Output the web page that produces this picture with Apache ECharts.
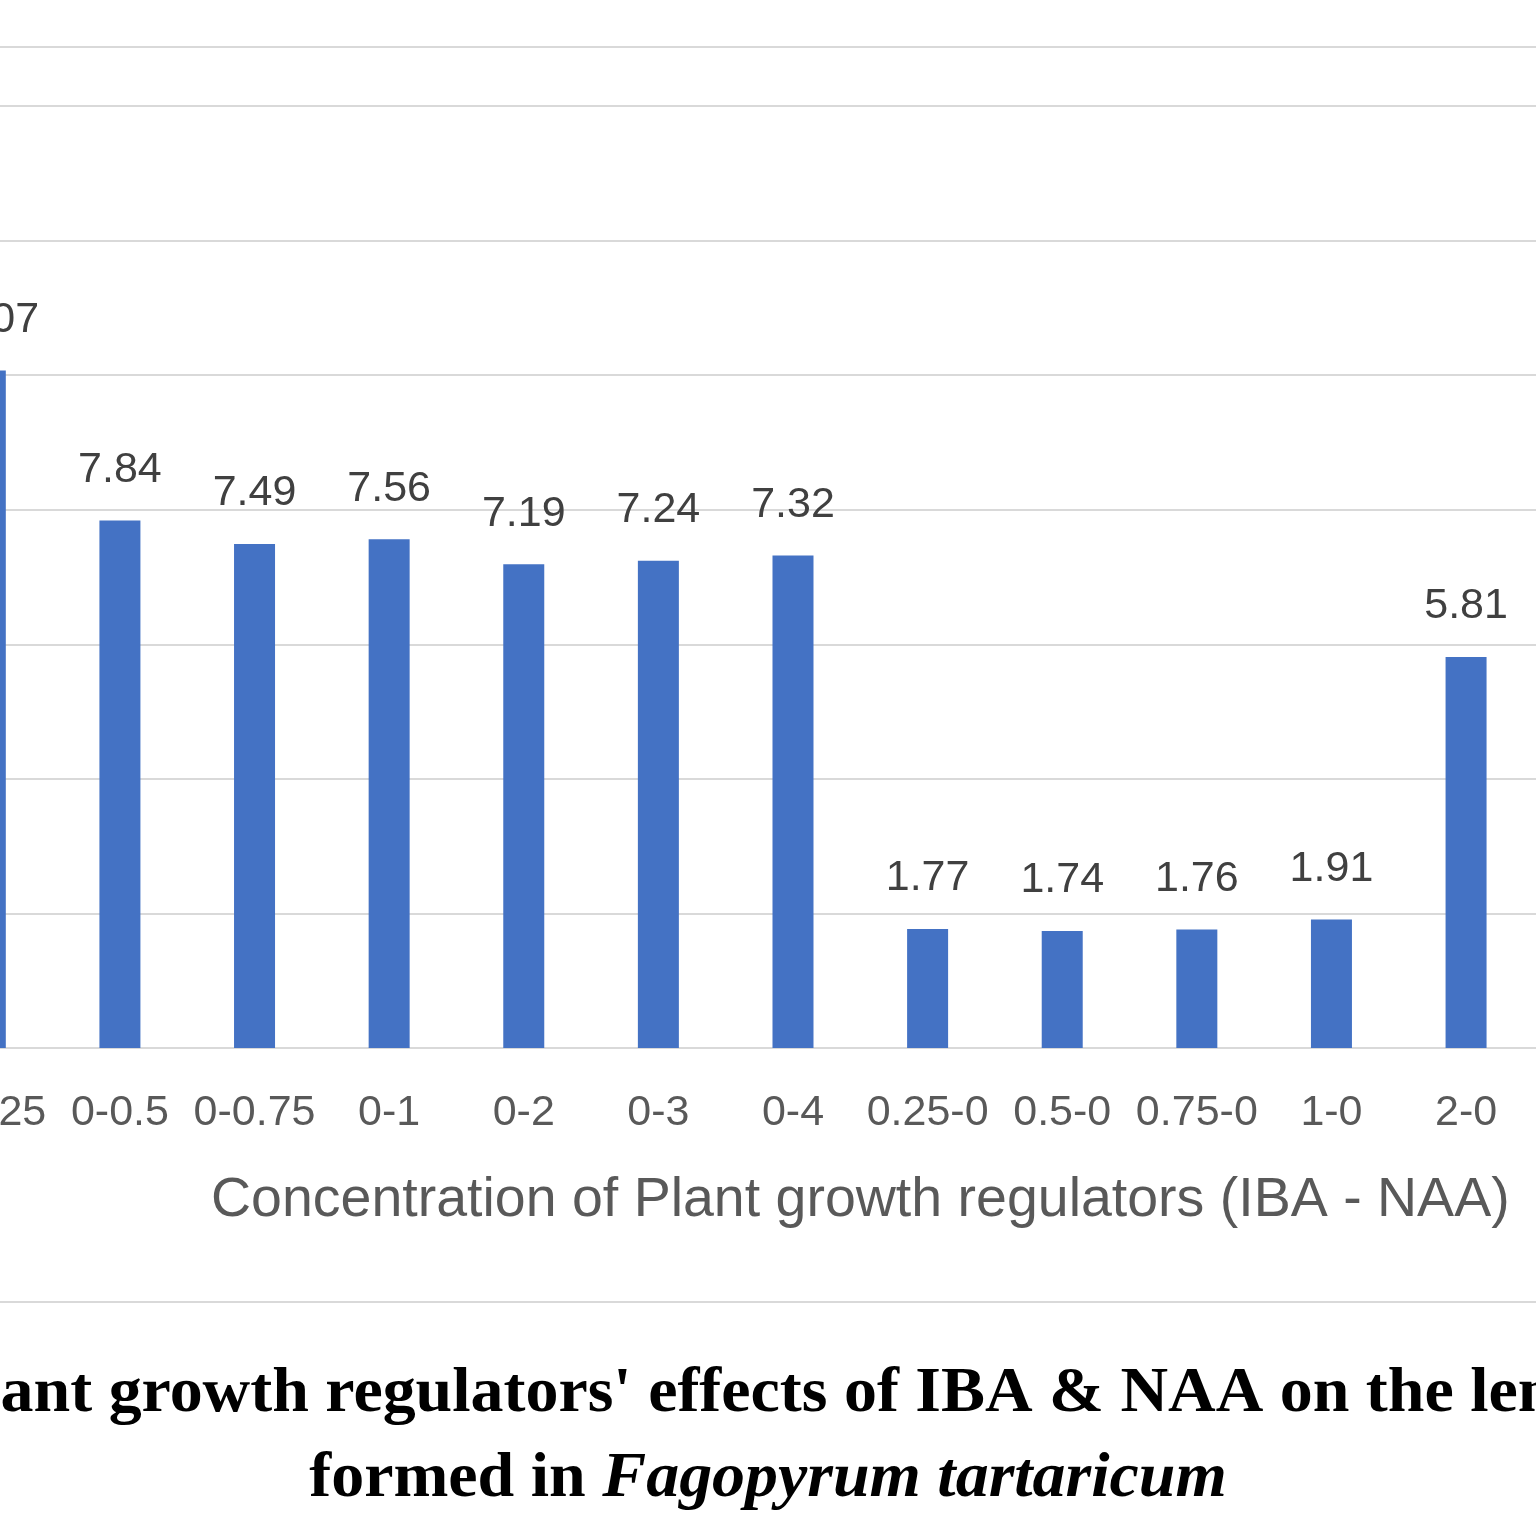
<!DOCTYPE html>
<html>
<head>
<meta charset="utf-8">
<script src="https://cdn.jsdelivr.net/npm/echarts@6/dist/echarts.min.js"></script>
<style>
html,body{margin:0;padding:0;background:#fff;overflow:hidden;width:1536px;height:1536px;}
#c{position:absolute;left:-400px;top:0;width:2400px;height:1536px;}
</style>
</head>
<body>
<div id="c"></div>
<script>
// Categories (IBA - NAA); the last two lie outside the cropped view
const categories = ['0-0.25','0-0.5','0-0.75','0-1','0-2','0-3','0-4','0.25-0','0.5-0','0.75-0','1-0','2-0','3-0','4-0'];
// Values (bars outside the visible crop left empty)
const values = [10.07, 7.84, 7.49, 7.56, 7.19, 7.24, 7.32, 1.77, 1.74, 1.76, 1.91, 5.81, null, null];
const yTicks = {min: 0, max: 14, interval: 2};
const xAxisTitle = 'Concentration of Plant growth regulators (IBA - NAA)';
const captionLine1 = "Plant growth regulators' effects of IBA & NAA on the length of roots";
const captionLine2a = 'formed in ';
const captionLine2b = 'Fagopyrum tartaricum';

const chart = echarts.init(document.getElementById('c'), null, {renderer: 'canvas'});
const OFF = 400; // container offset relative to the visible page
chart.setOption({
  animation: false,
  backgroundColor: '#ffffff',
  grid: {left: OFF - 82, right: 2400 - (OFF + 1802.6), top: 106, bottom: 1536 - 1048, containLabel: false, outerBoundsMode: 'none'},
  xAxis: {
    type: 'category',
    data: categories,
    axisTick: {show: false},
    axisLine: {lineStyle: {color: '#d9d9d9', width: 2}},
    axisLabel: {interval: 0, margin: 44, color: '#595959', fontFamily: 'Liberation Sans', fontSize: 43},
    name: xAxisTitle,
    nameLocation: 'middle',
    nameGap: 125,
    nameTextStyle: {color: '#595959', fontFamily: 'Liberation Sans', fontSize: 55.5}
  },
  yAxis: {
    type: 'value',
    min: yTicks.min, max: yTicks.max, interval: yTicks.interval,
    axisLine: {show: false},
    axisTick: {show: false},
    splitLine: {lineStyle: {color: '#d9d9d9', width: 2}},
    axisLabel: {color: '#595959', fontFamily: 'Liberation Sans', fontSize: 43, margin: 20}
  },
  series: [{
    type: 'bar',
    data: values,
    barWidth: 41,
    itemStyle: {color: '#4472C4'},
    label: {
      show: true, position: 'top', distance: 29,
      color: '#404040', fontFamily: 'Liberation Sans', fontSize: 43,
      formatter: p => (p.value == null ? '' : p.value.toFixed(2))
    }
  }],
  graphic: [
    {type: 'rect', silent: true, z: -1,
     shape: {x: 10, y: 47, width: 2380, height: 1255},
     style: {fill: 'none', stroke: '#d9d9d9', lineWidth: 2}},
    {type: 'text', silent: true, x: OFF - 58, y: 1394, scaleX: 1.03,
     style: {text: captionLine1, fill: '#000', font: 'bold 64px "Liberation Serif"', textAlign: 'left', textVerticalAlign: 'middle'}},
    {type: 'text', silent: true, x: OFF + 768, y: 1479, scaleX: 1.03,
     style: {
       text: '{b|' + captionLine2a + '}{i|' + captionLine2b + '}',
       textAlign: 'center', textVerticalAlign: 'middle',
       rich: {
         b: {fontFamily: 'Liberation Serif', fontWeight: 'bold', fontSize: 64, fill: '#000', color: '#000'},
         i: {fontFamily: 'Liberation Serif', fontWeight: 'bold', fontStyle: 'italic', fontSize: 64, fill: '#000', color: '#000'}
       }
     }}
  ]
});
</script>
</body>
</html>
